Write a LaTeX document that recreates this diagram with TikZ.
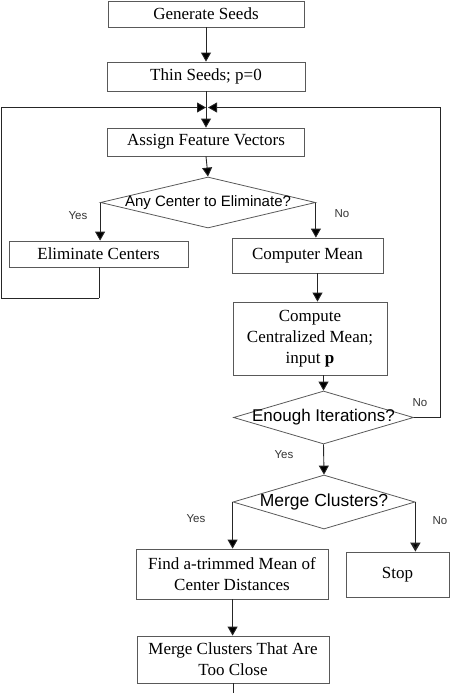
\documentclass[tikz,border=0pt]{standalone}
\usepackage{fontspec}
\setmainfont{Liberation Serif}
\newfontfamily\arialfont{Liberation Sans}
\usetikzlibrary{arrows.meta,shapes.geometric}
\begin{document}
\begin{tikzpicture}[x=1pt,y=-1pt,
  box/.style={draw=black!65, line width=0.8pt, inner sep=0pt, align=center, font=\fontsize{17}{21}\selectfont},
  dia/.style={diamond, draw=black!65, line width=0.8pt, inner sep=0pt, aspect=1},
  lbl/.style={font=\arialfont\fontsize{11.5}{13}\selectfont, text=black!80},
  conn/.style={draw=black!85, line width=0.9pt},
  arr/.style={conn, -{Triangle[length=9pt,width=10pt,fill=black]}},
]
\useasboundingbox (0,0) rectangle (474,693);
% boxes
\node[box, minimum width=196pt, minimum height=26pt] (gen) at (206,14) {Generate Seeds};
\node[box, minimum width=198pt, minimum height=29pt] (thin) at (206,76.5) {Thin Seeds; p=0};
\node[box, minimum width=197pt, minimum height=28pt] (assign) at (206,142) {Assign Feature Vectors};
\node[dia, minimum width=215pt, minimum height=51pt] (d1) at (208,202.5) {\makebox[0pt]{\arialfont\fontsize{15}{17}\selectfont Any Center to Eliminate?}};
\node[box, minimum width=179pt, minimum height=26pt] (elim) at (98.5,254) {Eliminate Centers};
\node[box, minimum width=151pt, minimum height=35pt] (cmean) at (307.5,255.5) {Computer Mean};
\node[box, minimum width=154pt, minimum height=73pt] (ccm) at (310,338.5) {Compute\\Centralized Mean;\\input \textbf{p}};
\node[dia, minimum width=180pt, minimum height=53pt] (d2) at (323.5,417.5) {\makebox[0pt]{\arialfont\fontsize{17}{19}\selectfont Enough Iterations?}};
\node[dia, minimum width=182pt, minimum height=54pt] (d3) at (324,502) {\makebox[0pt]{\arialfont\fontsize{17.5}{19}\selectfont Merge Clusters?}};
\node[box, minimum width=192pt, minimum height=50pt] (find) at (232,574) {Find a-trimmed Mean of\\Center Distances};
\node[box, minimum width=103pt, minimum height=45pt] (stop) at (397.5,574.5) {Stop};
\node[box, minimum width=192pt, minimum height=47pt] (merge) at (233,659.5) {Merge Clusters That Are\\Too Close};
% coordinates
\coordinate (J) at (207,107.5);
\coordinate (L1) at (99,298);
\coordinate (L2) at (1.5,298);
\coordinate (L3) at (1.5,107.5);
\coordinate (R1) at (440,417.5);
\coordinate (R2) at (440,107.5);
\coordinate (B) at (233,693);
% connectors
\draw[arr] (gen.south) -- (thin.north);
\draw[arr] (thin.south) -- (assign.north);
\draw[arr] (L1) -- (L2) -- (L3) -- ([xshift=-1pt]J);
\draw[conn] (elim.south -| L1) -- (L1);
\draw[arr] (d2.east) -- (R1) -- (R2) -- ([xshift=1pt]J);
\draw[arr] (assign.south) -- (d1.north);
\draw[arr] (d1.west) -- (d1.west |- elim.north);
\draw[arr] (d1.east) -- (d1.east |- cmean.north);
\draw[arr] ([xshift=10pt]cmean.south) -- ([xshift=10pt]cmean.south |- ccm.north);
\draw[arr] (ccm.south -| d2.north) -- (d2.north);
\draw[arr] (d2.south) -- (d3.north);
\draw[arr] (d3.west) -- (d3.west |- find.north);
\draw[arr, line width=1.8pt] (d3.east) -- (d3.east |- stop.north);
\draw[arr] (find.south -| d3.west) -- (d3.west |- merge.north);
\draw[conn] (merge.south) -- (B);
% labels
\node[lbl] (y1) at (78,216) {Yes};
\node[lbl] (n1) at (342,214) {No};
\node[lbl] (n2) at (420,403) {No};
\node[lbl] (y2) at (284,455) {Yes};
\node[lbl] (y3) at (196,519) {Yes};
\node[lbl] (n3) at (440,521) {No};
\end{tikzpicture}
\end{document}
